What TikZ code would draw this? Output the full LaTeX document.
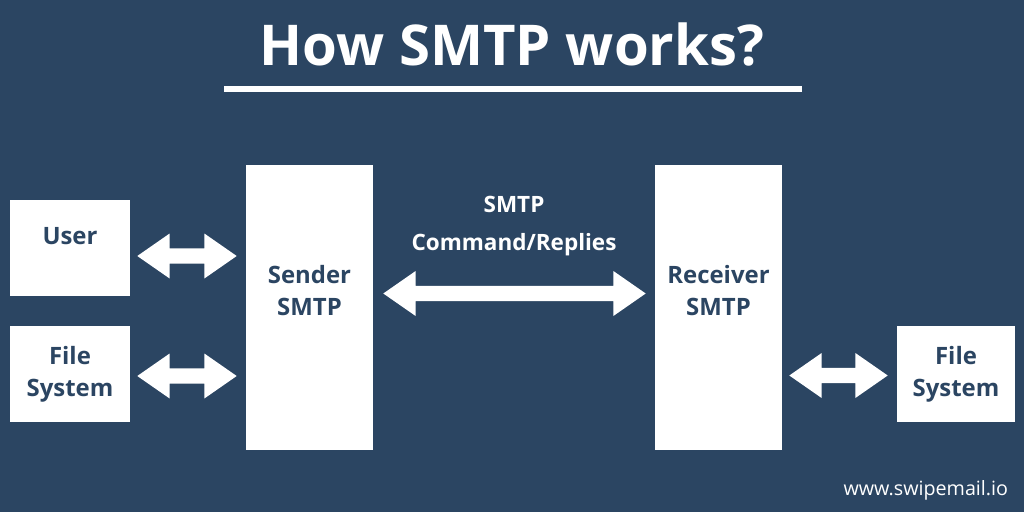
\documentclass[tikz,border=0pt]{standalone}
\usepackage{fontspec}
\setmainfont{Open Sans}
\usetikzlibrary{calc}
\definecolor{navy}{HTML}{2B4562}
\tikzset{
  box/.style={fill=white, text=navy, font=\bfseries\fontsize{17}{23}\selectfont, align=center, inner sep=0pt},
  lbl/.style={text=white, font=\bfseries\fontsize{16}{24}\selectfont, align=center}
}
% block arrow with two heads from #1 to #2 (sizes in pt)
\newcommand{\dblarrow}[2]{%
  \fill[white] let \p1=(#1), \p2=(#2) in
    (\x1,\y1) -- (\x1+23,\y1-16) -- (\x1+23,\y1-5.5) -- (\x2-23,\y1-5.5) -- (\x2-23,\y1-16)
    -- (\x2,\y1) -- (\x2-23,\y1+16) -- (\x2-23,\y1+5.5) -- (\x1+23,\y1+5.5) -- (\x1+23,\y1+16) -- cycle;}
\begin{document}
\begin{tikzpicture}[x=0.025cm,y=-0.025cm]
  \fill[navy] (0,0) rectangle (1024,512);
  \node[text=white, font=\bfseries\fontsize{40}{46}\selectfont] (title) at (512,45) {How SMTP works?};
  \fill[white] (224,86) rectangle (802,92);
  % boxes
  \node[box, minimum width=3cm, minimum height=2.4cm] (user) at (70,248) {User\\[-6pt]\mbox{}};
  \node[box, minimum width=3cm, minimum height=2.4cm] (fsl) at (70,374) {File\\System};
  \node[box, minimum width=3.175cm, minimum height=7.125cm] (sender) at (309.5,307.5) {Sender\\SMTP\\[1pt]\mbox{}};
  \node[box, minimum width=3.175cm, minimum height=7.125cm] (receiver) at (718.5,307.5) {Receiver\\SMTP\\[1pt]\mbox{}};
  \node[box, minimum width=2.95cm, minimum height=2.4cm] (fsr) at (956,374) {File\\System};
  \node[lbl] (cmd) at (514,226) {SMTP\\[3pt]Command/Replies};
  % arrows
  \coordinate (a1) at ($(user.east)+(7,8)$);
  \coordinate (b1) at ($(sender.west)+(-9,0)$);
  \dblarrow{a1}{b1}
  \coordinate (a2) at ($(fsl.east)+(7,2)$);
  \coordinate (b2) at ($(sender.west)+(-9,0)$);
  \dblarrow{a2}{b2}
  \coordinate (a3) at ($(sender.east)+(10,-14)$);
  \coordinate (b3) at ($(receiver.west)+(-9,0)$);
  \dblarrow{a3}{b3}
  \coordinate (a4) at ($(receiver.east)+(7,68)$);
  \coordinate (b4) at ($(fsr.west)+(-9,0)$);
  \dblarrow{a4}{b4}
  \node[text=white, font=\fontsize{14}{17}\selectfont, anchor=east] (web) at (1013,490) {www.swipemail.io};
\end{tikzpicture}
\end{document}
